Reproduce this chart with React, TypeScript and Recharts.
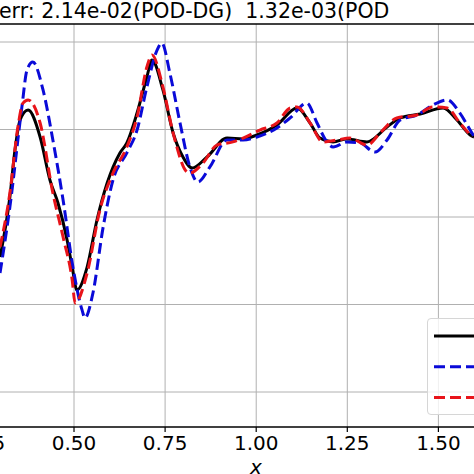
import React from "react";
import {
  LineChart,
  Line,
  XAxis,
  YAxis,
  CartesianGrid,
  ReferenceLine,
  Legend,
} from "recharts";

// x positions and values, one list per curve
const refX = [0.297, 0.324, 0.338, 0.352, 0.374, 0.407, 0.434, 0.456, 0.481, 0.495, 0.508, 0.536, 0.563, 0.591, 0.626, 0.645, 0.673, 0.7, 0.714, 0.744, 0.772, 0.799, 0.824, 0.865, 0.92, 0.964, 1.002, 1.057, 1.112, 1.148, 1.175, 1.211, 1.249, 1.304, 1.359, 1.395, 1.45, 1.513, 1.551, 1.587, 1.598];
const refY = [-0.229, 0.114, 0.383, 0.554, 0.611, 0.457, 0.211, 0.08, -0.131, -0.286, -0.417, -0.286, -0.017, 0.194, 0.366, 0.423, 0.594, 0.8, 0.897, 0.726, 0.48, 0.343, 0.28, 0.343, 0.451, 0.446, 0.469, 0.526, 0.623, 0.537, 0.451, 0.429, 0.446, 0.429, 0.514, 0.566, 0.589, 0.623, 0.554, 0.469, 0.457];

const dgX = [0.297, 0.324, 0.357, 0.371, 0.387, 0.415, 0.442, 0.47, 0.497, 0.522, 0.53, 0.552, 0.58, 0.607, 0.645, 0.673, 0.7, 0.728, 0.741, 0.763, 0.791, 0.818, 0.84, 0.873, 0.92, 0.964, 1.002, 1.057, 1.093, 1.139, 1.167, 1.194, 1.211, 1.249, 1.285, 1.326, 1.359, 1.395, 1.441, 1.485, 1.524, 1.559, 1.587, 1.598];
const dgY = [-0.32, 0.057, 0.629, 0.84, 0.886, 0.726, 0.44, 0.097, -0.286, -0.531, -0.577, -0.434, -0.057, 0.211, 0.366, 0.497, 0.743, 0.954, 0.994, 0.823, 0.537, 0.286, 0.2, 0.286, 0.44, 0.44, 0.457, 0.509, 0.566, 0.651, 0.537, 0.429, 0.4, 0.429, 0.423, 0.371, 0.44, 0.554, 0.583, 0.64, 0.669, 0.594, 0.497, 0.46];

const podX = [0.297, 0.324, 0.346, 0.36, 0.374, 0.407, 0.442, 0.47, 0.495, 0.503, 0.536, 0.571, 0.607, 0.645, 0.673, 0.7, 0.714, 0.744, 0.772, 0.81, 0.818, 0.854, 0.892, 0.936, 0.964, 1.01, 1.057, 1.093, 1.112, 1.148, 1.183, 1.222, 1.257, 1.304, 1.34, 1.386, 1.441, 1.485, 1.524, 1.559, 1.592];
const podY = [-0.171, 0.137, 0.514, 0.651, 0.669, 0.537, 0.137, -0.114, -0.36, -0.491, -0.32, 0.04, 0.251, 0.4, 0.571, 0.857, 0.926, 0.743, 0.48, 0.257, 0.251, 0.309, 0.411, 0.429, 0.451, 0.497, 0.537, 0.623, 0.629, 0.537, 0.429, 0.44, 0.451, 0.411, 0.48, 0.566, 0.583, 0.629, 0.623, 0.537, 0.457];

const xTicks = [0.25, 0.5, 0.75, 1.0, 1.25, 1.5];
const yGrid = [-1.0, -0.5, 0, 0.5, 1.0];
const xDomain = [0.2969, 1.5977];
const yDomain = [-1.2, 1.1029];

const title = "err: 2.14e-02(POD-DG)  1.32e-03(POD";
const seriesOrder = ["Reference", "POD-DG", "POD"];

const toPoints = (xs: number[], ys: number[]) => xs.map((x, i) => ({ x, y: ys[i] }));

const FONT = "'DejaVu Sans', sans-serif";

function LegendBox({ payload }: any) {
  const items = [...(payload || [])].sort(
    (a: any, b: any) => seriesOrder.indexOf(a.value) - seriesOrder.indexOf(b.value)
  );
  return (
    <div
      style={{
        width: 60,
        height: 97,
        background: "rgba(255,255,255,0.8)",
        border: "1px solid #d6d6d6",
        borderRadius: 4,
        boxSizing: "border-box",
        position: "relative",
      }}
    >
      <svg width={60} height={97} style={{ position: "absolute", left: 0, top: 0 }}>
        {items.map((p: any, i: number) => (
          <line
            key={p.value}
            x1={6}
            x2={60}
            y1={17 + i * 30.7}
            y2={17 + i * 30.7}
            stroke={p.color}
            strokeWidth={3}
            strokeDasharray={p.payload?.strokeDasharray}
          />
        ))}
      </svg>
    </div>
  );
}

// matplotlib centres the axis label on the full (uncropped) axes, which sits at x = 1.00 here
const AxisLabel = ({ viewBox }: any) => (
  <text
    x={256}
    y={viewBox.y + viewBox.height}
    textAnchor="middle"
    fontSize={20}
    fontStyle="italic"
    fontFamily={FONT}
    fill="#000"
  >
    x
  </text>
);

export default function App() {
  return (
    <div style={{ position: "fixed", left: 0, top: 0, width: 474, height: 474, background: "#fff", overflow: "hidden" }}>
      <LineChart width={474} height={474} margin={{ top: 24, right: 0, bottom: 0, left: 0 }}>
        <CartesianGrid
          stroke="#b0b0b0"
          strokeWidth={1}
          horizontalValues={yGrid}
          verticalValues={xTicks}
        />
        <XAxis
          type="number"
          dataKey="x"
          domain={xDomain}
          allowDataOverflow
          ticks={xTicks}
          interval={0}
          tickFormatter={(v: number) => v.toFixed(2)}
          height={47}
          tickSize={5}
          tickMargin={4}
          stroke="#000"
          axisLine={{ stroke: "#000", strokeWidth: 1.5 }}
          tickLine={{ stroke: "#000", strokeWidth: 1.2 }}
          tick={{ fill: "#000", fontSize: 20, fontFamily: FONT }}
          label={{ content: AxisLabel }}
        />
        <YAxis type="number" dataKey="y" domain={yDomain} allowDataOverflow hide />
        <ReferenceLine y={yDomain[1]} stroke="#000" strokeWidth={1.5} ifOverflow="visible" />
        <Legend
          layout="vertical"
          align="center"
          verticalAlign="middle"
          content={<LegendBox />}
          wrapperStyle={{ left: 427, top: 318, width: 60, height: 97 }}
        />
        <Line
          data={toPoints(refX, refY)}
          dataKey="y"
          name="Reference"
          type="monotone"
          stroke="#000"
          strokeWidth={3}
          dot={false}
          isAnimationActive={false}
        />
        <Line
          data={toPoints(dgX, dgY)}
          dataKey="y"
          name="POD-DG"
          type="monotone"
          stroke="#0a0ad8"
          strokeWidth={3}
          strokeDasharray="11 5"
          dot={false}
          isAnimationActive={false}
        />
        <Line
          data={toPoints(podX, podY)}
          dataKey="y"
          name="POD"
          type="monotone"
          stroke="#e8141a"
          strokeWidth={3}
          strokeDasharray="11 5"
          dot={false}
          isAnimationActive={false}
        />
      </LineChart>
      <svg width={474} height={24} style={{ position: "absolute", left: 0, top: 0 }}>
        <text x={-1} y={18.3} fontSize={20.5} fontFamily={FONT} fill="#000" style={{ whiteSpace: "pre" }}>
          {title}
        </text>
      </svg>
    </div>
  );
}
